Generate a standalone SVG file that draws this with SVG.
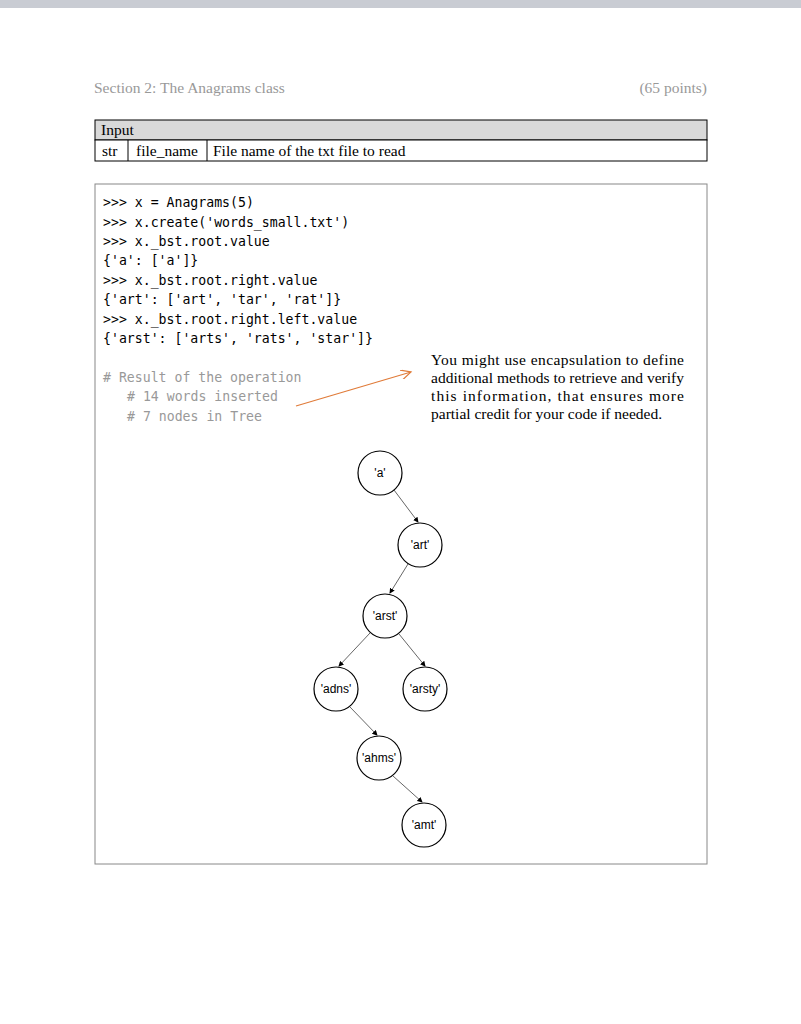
<svg xmlns="http://www.w3.org/2000/svg" width="801" height="1024" viewBox="0 0 801 1024">
<style>
.serif{font-family:"Liberation Serif",serif}
.mono{font-family:"DejaVu Sans Mono",monospace;font-size:13.2px}
.nd circle{fill:#fff;stroke:#000;stroke-width:1.2}
.nd text{font-family:"Liberation Sans",sans-serif;font-size:12px;text-anchor:middle}
.e{stroke:#555;stroke-width:0.9;marker-end:url(#ah)}
</style>
<defs><marker id="ah" markerWidth="6" markerHeight="6" refX="5" refY="3" orient="auto"><path d="M0,0L6,3L0,6z" fill="#000"/></marker>
<marker id="oa" markerWidth="12" markerHeight="10" refX="10" refY="5" orient="auto" markerUnits="userSpaceOnUse"><path d="M0,0L10,5L0,10" fill="none" stroke="#e07b39" stroke-width="1.2"/></marker></defs>
<rect width="801" height="1024" fill="#fff"/>
<rect width="801" height="8" fill="#c9ccd3"/>
<text x="94" y="93" class="serif" font-size="15.5" fill="#999">Section 2: The Anagrams class</text>
<text x="707" y="93" class="serif" font-size="15.5" fill="#999" text-anchor="end">(65 points)</text>
<g id="table">
<rect x="95" y="120" width="612" height="20" fill="#d9d9d9" stroke="#000"/>
<rect x="95" y="140" width="612" height="21" fill="#fff" stroke="#000"/>
<line x1="128" y1="140" x2="128" y2="161" stroke="#000"/>
<line x1="207" y1="140" x2="207" y2="161" stroke="#000"/>
<text x="101" y="135" class="serif" font-size="15.5">Input</text>
<text x="102" y="156" class="serif" font-size="15.5">str</text>
<text x="136" y="156" class="serif" font-size="15.5">file_name</text>
<text x="213" y="156" class="serif" font-size="15.5">File name of the txt file to read</text>
</g>
<rect x="95" y="184" width="612" height="680" fill="none" stroke="#888"/>
<g class="mono">
<text x="103" y="207">&gt;&gt;&gt; x = Anagrams(5)</text>
<text x="103" y="227">&gt;&gt;&gt; x.create('words_small.txt')</text>
<text x="103" y="246">&gt;&gt;&gt; x._bst.root.value</text>
<text x="103" y="265">{'a': ['a']}</text>
<text x="103" y="285">&gt;&gt;&gt; x._bst.root.right.value</text>
<text x="103" y="304">{'art': ['art', 'tar', 'rat']}</text>
<text x="103" y="324">&gt;&gt;&gt; x._bst.root.right.left.value</text>
<text x="103" y="343">{'arst': ['arts', 'rats', 'star']}</text>
<g fill="#999"><text x="103" y="382"># Result of the operation</text>
<text x="127" y="401"># 14 words inserted</text>
<text x="127" y="421"># 7 nodes in Tree</text></g>
</g>
<line x1="296" y1="406" x2="411" y2="372" stroke="#e07b39" stroke-width="1.2" marker-end="url(#oa)"/>
<g class="serif" font-size="15.5">
<text x="431" y="365" textLength="253" lengthAdjust="spacing">You might use encapsulation to define</text>
<text x="431" y="383" textLength="253" lengthAdjust="spacing">additional methods to retrieve and verify</text>
<text x="431" y="401" textLength="253" lengthAdjust="spacing">this information, that ensures more</text>
<text x="431" y="419">partial credit for your code if needed.</text>
</g>
<g id="edges">
<line class="e" x1="394" y1="490" x2="418" y2="522"/>
<line class="e" x1="408" y1="564" x2="390" y2="593"/>
<line class="e" x1="370" y1="633" x2="339" y2="666"/>
<line class="e" x1="399" y1="634" x2="425" y2="666"/>
<line class="e" x1="350" y1="707" x2="377" y2="735"/>
<line class="e" x1="393" y1="776" x2="422" y2="802"/>
</g>
<g id="n1" class="nd"><circle cx="380" cy="473" r="22"/><text x="380" y="477">'a'</text></g>
<g id="n2" class="nd"><circle cx="420" cy="545" r="22"/><text x="420" y="549">'art'</text></g>
<g id="n3" class="nd"><circle cx="385" cy="616" r="22"/><text x="385" y="620">'arst'</text></g>
<g id="n4" class="nd"><circle cx="336" cy="689" r="22"/><text x="336" y="693">'adns'</text></g>
<g id="n5" class="nd"><circle cx="425" cy="689" r="22"/><text x="425" y="693">'arsty'</text></g>
<g id="n6" class="nd"><circle cx="379" cy="758" r="22"/><text x="379" y="762">'ahms'</text></g>
<g id="n7" class="nd"><circle cx="424" cy="825" r="22"/><text x="424" y="829">'amt'</text></g>
</svg>
